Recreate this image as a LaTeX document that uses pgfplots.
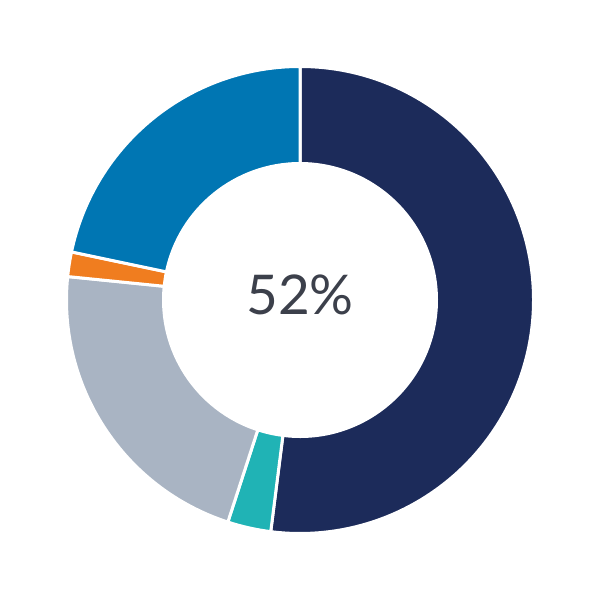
\documentclass[border=0pt]{standalone}
\usepackage{pgfplots}
\usepackage{pgfplotstable}
\pgfplotsset{compat=1.18}
\usepackage{fontspec}
\setmainfont{Lato}

\definecolor{navy}{HTML}{1C2B5A}
\definecolor{tealc}{HTML}{20B3B5}
\definecolor{slate}{HTML}{A9B4C3}
\definecolor{orangec}{HTML}{F07D1F}
\definecolor{bluec}{HTML}{0076B3}
\definecolor{txt}{HTML}{3C404B}

% shares in percent, clockwise from 12 o'clock
\pgfplotstableread{
value color
52 navy
3 tealc
21.6 slate
1.7 orangec
21.7 bluec
}\donutdata

\begin{document}
\begin{tikzpicture}
  \begin{axis}[
      scale only axis,
      width=600bp, height=600bp,
      xmin=-300, xmax=300,
      ymin=-300, ymax=300,
      hide axis,
      clip=false,
    ]
    \pgfplotsextra{
      \path (axis cs:-300,-300) rectangle (axis cs:300,300);
      \xdef\donutA{90}
      \pgfplotstablegetrowsof{\donutdata}\let\nrows\pgfplotsretval
      \pgfmathtruncatemacro\lastrow{\nrows-1}
      \foreach \i in {0,...,\lastrow}{
        \pgfplotstablegetelem{\i}{value}\of\donutdata\let\v\pgfplotsretval
        \pgfplotstablegetelem{\i}{color}\of\donutdata\let\c\pgfplotsretval
        \pgfmathsetmacro\donutB{\donutA-3.6*\v}
        \filldraw[fill=\c, draw=white, line width=3bp, line join=miter]
          (axis cs:{233.5*cos(\donutA)},{233.5*sin(\donutA)})
          arc[start angle=\donutA, end angle=\donutB, radius=233.5bp]
          -- (axis cs:{136.5*cos(\donutB)},{136.5*sin(\donutB)})
          arc[start angle=\donutB, end angle=\donutA, radius=136.5bp]
          -- cycle;
        \xdef\donutA{\donutB}
      }
    }
    \node[anchor=base, text=txt, font=\fontsize{55}{60}\selectfont]
      at (axis cs:0,-15) {52\%};
  \end{axis}
\end{tikzpicture}
\end{document}
